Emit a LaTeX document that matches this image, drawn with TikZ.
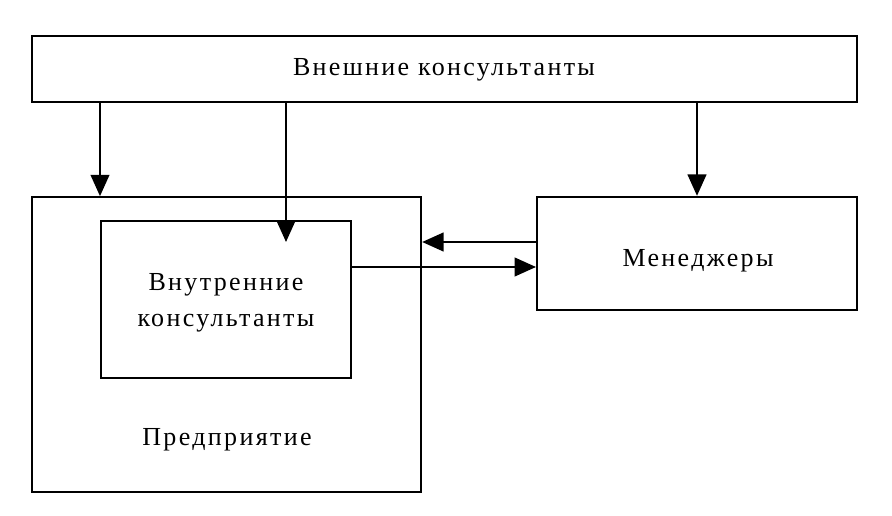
\documentclass[tikz,border=0pt]{standalone}
\usepackage{fontspec}
\setmainfont{Liberation Serif}
\usetikzlibrary{arrows.meta,positioning}

\begin{document}
\begin{tikzpicture}[x=0.75pt,y=-0.75pt,
    font=\fontsize{19.5}{27}\selectfont\addfontfeature{LetterSpace=9},
    blk/.style={draw,line width=1.5pt,inner sep=0pt},
    arr/.style={line width=1.5pt,-{Triangle[length=16pt,width=14pt]}}]
  \useasboundingbox (0,0) rectangle (892,516);
  % boxes
  \node[blk,minimum width=619pt,minimum height=49.5pt] (ext) at (444.5,69) {};
  \node (extlbl) at (444,70) {Внешние консультанты};
  \node[blk,minimum width=292pt,minimum height=221pt] (ent) at (226.5,344.5) {};
  \node (entlbl) at (227,440) {Предприятие};
  \node[blk,minimum width=187.5pt,minimum height=118pt] (inn) at (226,299.5) {};
  \node[align=center] (innlbl) at (226,303) {Внутренние\\консультанты};
  \node[blk,minimum width=240pt,minimum height=85pt] (mgr) at (697,253.5) {};
  \node (mgrlbl) at (698,261) {Менеджеры};
  % helper points
  \coordinate (p1) at (100,0);
  \coordinate (p2) at (286,242);
  \coordinate (p3) at (0,267);
  % connectors
  \draw[arr] (ext.south -| p1) -- (ent.north -| p1);
  \draw[arr] (ext.south -| p2) -- (p2);
  \draw[arr] (ext.south -| mgr.north) -- (mgr.north);
  \draw[arr] (mgr.west |- p2) -- (ent.east |- p2);
  \draw[arr] (inn.east |- p3) -- (mgr.west |- p3);
\end{tikzpicture}
\end{document}
